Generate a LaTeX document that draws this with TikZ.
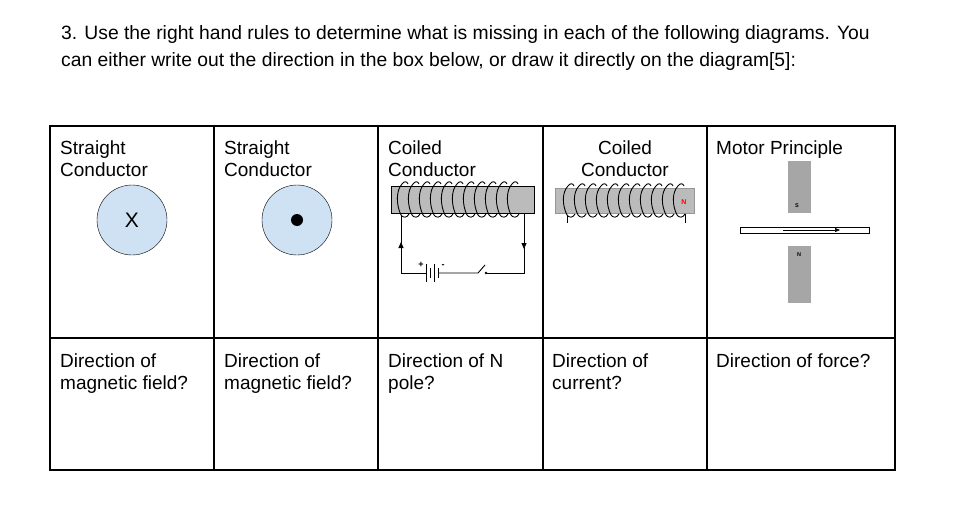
\documentclass[tikz,border=0pt]{standalone}
\usepackage{fontspec}
\setmainfont{Liberation Sans}
\usetikzlibrary{arrows.meta}
\definecolor{circblue}{HTML}{CFE2F3}
\definecolor{bargray}{HTML}{BBBBBB}
\definecolor{maggray}{HTML}{A6A6A6}
\begin{document}
\begin{tikzpicture}[x=1pt,y=-1pt,
  celltxt/.style={anchor=north west,align=left,font=\fontsize{19}{22}\selectfont,inner sep=0pt},
  coil/.style={line width=0.9pt},
  wire/.style={line width=0.9pt}]
\useasboundingbox (0,0) rectangle (967,522);
\node[anchor=north west,align=left,inner sep=0pt,font=\fontsize{19.3}{27}\selectfont] (title) at (61,25)
 {3. Use the right hand rules to determine what is missing in each of the following diagrams. You\\can either write out the direction in the box below, or draw it directly on the diagram[5]:};
% table
\draw[line width=1.5pt] (50,126) rectangle (895,470);
\foreach \x in {214,378,543,707} \draw[line width=1.5pt] (\x,126) -- (\x,470);
\draw[line width=1.5pt] (50,338) -- (895,338);
% header texts
\node[celltxt] (h1) at (60,141) {Straight\\Conductor};
\node[celltxt] (h2) at (224,141) {Straight\\Conductor};
\node[celltxt] (h3) at (388,141) {Coiled\\Conductor};
\node[celltxt,align=center,anchor=north] (h4) at (625,141) {Coiled\\Conductor};
\node[celltxt] (h5) at (716,141) {Motor Principle};
\node[celltxt] (b1) at (60,354) {Direction of\\magnetic field?};
\node[celltxt] (b2) at (224,354) {Direction of\\magnetic field?};
\node[celltxt] (b3) at (388,354) {Direction of N\\pole?};
\node[celltxt] (b4) at (552,354) {Direction of\\current?};
\node[celltxt] (b5) at (716,354) {Direction of force?};
% circles
\node[circle,draw,fill=circblue,minimum size=70pt,inner sep=0pt,font=\fontsize{21}{21}\selectfont] (c1) at (132,220) {X};
\node[circle,draw,fill=circblue,minimum size=70pt,inner sep=0pt] (c2) at (297,220) {};
\fill (c2.center) circle (6pt);
% coil 1
\draw[fill=bargray] (391,186) rectangle (534,213);
\foreach \i in {0,...,10} {
  \pgfmathsetmacro{\xx}{401+\i*11}
  \draw[coil] (\xx,215) .. controls (\xx-5,205) and (\xx-5,190) .. (\xx+1,184) .. controls (\xx+3,181) and (\xx+6,181) .. (\xx+7,184);
  \draw[coil] (\xx,215) .. controls (\xx+2,218) and (\xx+6,218) .. (\xx+8,214);
}
\coordinate (L1) at (401,215);
\coordinate (R1) at (524,213);
\coordinate (BL) at (401,273);
\coordinate (BR) at (524,273);
\draw[wire] (L1) -- (BL) -- (420,273);
\draw[wire] (R1) -- (BR) -- (486,273);
\draw[wire,-{Triangle[length=6pt,width=5pt]}] (401,255) -- (401,242);
\draw[wire,-{Triangle[length=6pt,width=5pt]}] (524,232) -- (524,249);
% battery
\draw[wire] (426,264) -- (426,282);
\draw[wire] (430,268) -- (430,278);
\draw[wire] (434,264) -- (434,282);
\draw[wire] (438,268) -- (438,278);
\draw[wire] (438,273) -- (478,273) -- (485,265);
\draw[wire] (420,273) -- (426,273);
\fill (486,273) circle (1.3pt);
\node[font=\fontsize{9}{9}\selectfont\bfseries,inner sep=0pt] (plus) at (421,265) {+};
\node[font=\fontsize{9}{9}\selectfont\bfseries,inner sep=0pt] (minus) at (443,266) {-};
% coil 2
\draw[fill=bargray,draw=bargray!80!black] (555,188) rectangle (694,213);
\foreach \i in {0,...,10} {
  \pgfmathsetmacro{\xx}{567+\i*11}
  \draw[coil] (\xx,215) .. controls (\xx-5,205) and (\xx-5,192) .. (\xx+1,186) .. controls (\xx+3,183) and (\xx+6,183) .. (\xx+7,186);
  \draw[coil] (\xx,215) .. controls (\xx+2,218) and (\xx+6,218) .. (\xx+8,214);
}
\draw[coil] (567,215) -- (567,223);
\draw[coil] (685,214) -- (685,223);
\node[text=red,font=\fontsize{7}{7}\selectfont\bfseries,inner sep=0pt] (Nred) at (684,202) {N};
% motor
\node[fill=maggray,minimum width=23pt,minimum height=52pt,inner sep=0pt] (S) at (799.5,187) {};
\node[font=\fontsize{5.5}{5.5}\selectfont\bfseries,inner sep=0pt] (Slab) at (797,206) {S};
\node[fill=maggray,minimum width=23pt,minimum height=57pt,inner sep=0pt] (N) at (799.5,274.5) {};
\node[font=\fontsize{5.5}{5.5}\selectfont\bfseries,inner sep=0pt] (Nlab) at (799,255) {N};
\draw[line width=0.6pt] (740,227) rectangle (869,233);
\draw[line width=0.6pt,-{Triangle[length=5pt,width=4pt]}] (783,230) -- (840,230);
\end{tikzpicture}
\end{document}
